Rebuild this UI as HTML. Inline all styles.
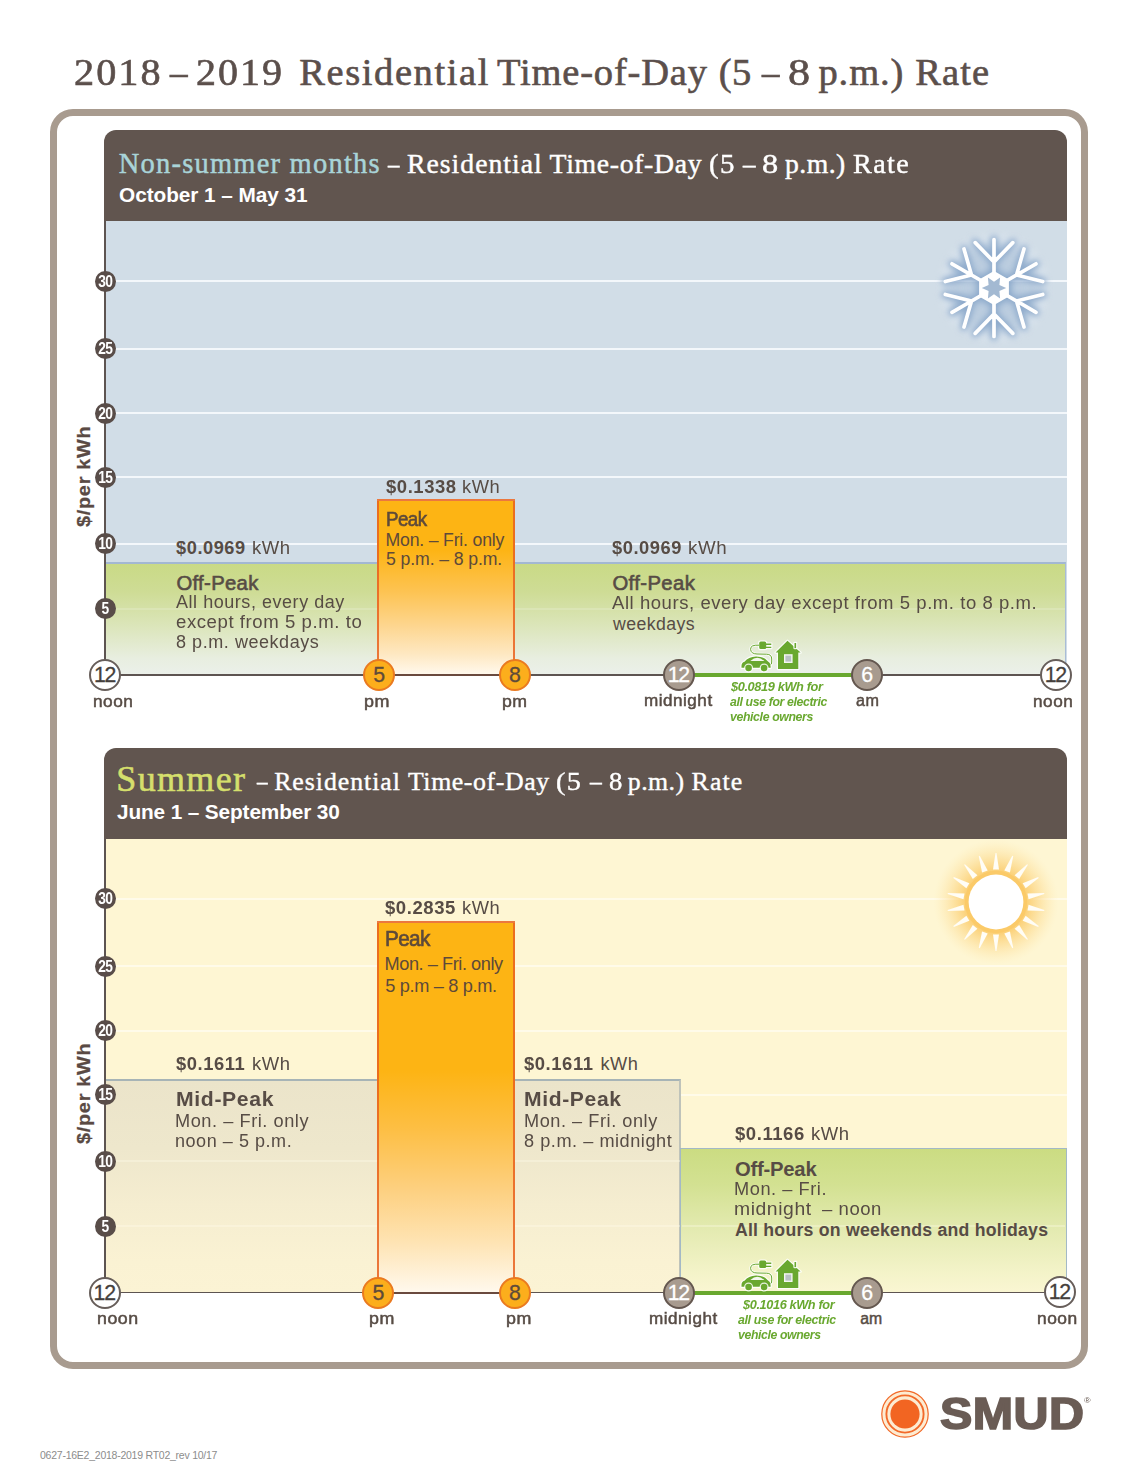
<!DOCTYPE html>
<html><head><meta charset="utf-8"><title>2018 – 2019 Residential Time-of-Day (5 – 8 p.m.) Rate</title><style>
html,body{margin:0;padding:0;background:#fff}
#pg{position:relative;width:1140px;height:1475px;overflow:hidden;background:#fff;font-family:"Liberation Sans",sans-serif}
.abs{position:absolute}
.t{position:absolute;white-space:pre;transform-origin:0 50%}
.frame{position:absolute;left:50px;top:109px;width:1024px;height:1246px;border:7px solid #a89b8f;border-radius:23px}
.hdr{position:absolute;left:104px;width:963px;height:91px;background:#61554f;border-radius:12px 12px 0 0}
.bg{position:absolute;left:105px;width:962px}
.g1{position:absolute;left:105px;width:962px;height:2px;background:#f3f7fb}
.g2{position:absolute;left:105px;width:962px;height:2px;background:#fffbe9}
.yax{position:absolute;left:104.3px;width:1.7px;background:#5d5451}
.xax{position:absolute;left:105px;height:1.8px;background:#5d5451}
.yc{position:absolute;left:94.5px;width:21px;height:21px;border-radius:50%;background:#594d49;color:#fff;font:bold 16px/21px "Liberation Sans",sans-serif;text-align:center}
.yc i{display:inline-block;font-style:normal;transform:scaleX(.86);letter-spacing:-.6px;margin:0 -4px}
.tc{position:absolute;width:28px;height:28px;border-radius:50%;border:2px solid #675e5a;background:#fff;color:#453f3c;font:21.3px/28px "Liberation Sans",sans-serif;text-align:center;letter-spacing:-1.3px;text-indent:-1.3px;-webkit-text-stroke:.3px currentColor}
.tc.or{background:#fcae1c;border-color:#ea7a20;color:#5e4a3a}
.tc.tp{background:#a89b8f;border-color:#64574f;color:#fff}
.rot{position:absolute;transform-origin:0 0;transform:rotate(-90deg) scaleX(1.07);white-space:pre;font:bold 18.6px/18.6px "Liberation Sans",sans-serif;color:#5a4a44;-webkit-text-stroke:.25px #5a4a44}
</style></head><body><div id="pg"><div class="frame"></div><div class="hdr" style="top:130px"></div><div class="bg" style="top:221px;height:454px;background:#d1dde7"></div><div class="g1" style="top:280.0px"></div><div class="g1" style="top:347.5px"></div><div class="g1" style="top:412.0px"></div><div class="g1" style="top:476.0px"></div><div class="g1" style="top:542.5px"></div><div class="abs" style="left:105px;top:562.3px;width:960.5px;height:112.7px;background:linear-gradient(#c9da86 0%,#cedc95 25%,#dbe5b9 55%,#e8eee0 85%,#ebf0ea 100%);border-top:2px solid #a3b8d2;border-right:1.8px solid #a9bcd6;box-sizing:border-box"></div><div class="abs" style="left:105px;top:607.5px;width:960px;height:2px;background:rgba(255,255,255,.16)"></div><div class="abs" style="left:377px;top:499px;width:138px;height:176px;box-sizing:border-box;border:2px solid rgba(232,98,32,.85);border-bottom:none;background:linear-gradient(#fdb414 0%,#fdb414 28%,#fdc352 52%,#fdd690 72%,#fee8c2 88%,#fff9ee 100%)"></div><div class="yax" style="top:221px;height:454px"></div><div class="xax" style="top:674px;width:951px"></div><div class="abs" style="left:379px;top:674px;width:136px;height:2px;background:#6a4a3e"></div><div class="abs" style="left:679px;top:673.3px;width:188px;height:3.5px;background:#69a82f"></div><div class="yc" style="top:270.5px"><i>30</i></div><div class="yc" style="top:338.0px"><i>25</i></div><div class="yc" style="top:402.5px"><i>20</i></div><div class="yc" style="top:466.5px"><i>15</i></div><div class="yc" style="top:533.0px"><i>10</i></div><div class="yc" style="top:598.0px"><i>5</i></div><div class="tc " style="left:89.2px;top:659.0px">12</div><div class="tc or" style="left:363.2px;top:659.0px">5</div><div class="tc or" style="left:499.0px;top:659.0px">8</div><div class="tc tp" style="left:663.0px;top:659.0px">12</div><div class="tc tp" style="left:851.2px;top:659.0px">6</div><div class="tc " style="left:1040.0px;top:658.5px">12</div><div class="rot" style="left:75.1px;top:527px;letter-spacing:.66px">$/per kWh</div><svg class="abs" style="left:924px;top:217.7px" width="140" height="140" viewBox="-70 -70 140 140">
<defs><filter id="sfb" x="-30%" y="-30%" width="160%" height="160%"><feGaussianBlur stdDeviation="3.2"/></filter>
<filter id="sfb2" x="-30%" y="-30%" width="160%" height="160%"><feGaussianBlur stdDeviation="6"/></filter>
<radialGradient id="sfg"><stop offset="0" stop-color="#9ab5d3" stop-opacity=".55"/><stop offset=".7" stop-color="#a3bcd8" stop-opacity=".4"/><stop offset=".9" stop-color="#e8eff6" stop-opacity=".45"/><stop offset="1" stop-color="#e8eff6" stop-opacity="0"/></radialGradient></defs>
<circle r="56" fill="url(#sfg)" filter="url(#sfb)"/>
<g filter="url(#sfb)" opacity=".75"><path d="M0.0 0.0L0.0 -48.5M0.0 -26.0L-18.8 -45.4M0.0 -26.0L18.8 -45.4M0.0 0.0L-42.0 -24.2M-22.5 -13.0L-48.7 -6.5M-22.5 -13.0L-30.0 -39.0M0.0 0.0L-42.0 24.3M-22.5 13.0L-30.0 39.0M-22.5 13.0L-48.7 6.5M0.0 0.0L-0.0 48.5M-0.0 26.0L18.8 45.4M-0.0 26.0L-18.8 45.4M0.0 0.0L42.0 24.3M22.5 13.0L48.7 6.5M22.5 13.0L30.0 39.0M0.0 0.0L42.0 -24.2M22.5 -13.0L30.0 -39.0M22.5 -13.0L48.7 -6.5" stroke="#7d9dc4" stroke-width="8" stroke-linecap="round" fill="none"/><polygon points="0.0,-16.0 -13.9,-8.0 -13.9,8.0 -0.0,16.0 13.9,8.0 13.9,-8.0" fill="#7d9dc4" stroke="#7d9dc4" stroke-width="7"/></g>
<path d="M0.0 0.0L0.0 -48.5M0.0 -26.0L-18.8 -45.4M0.0 -26.0L18.8 -45.4M0.0 0.0L-42.0 -24.2M-22.5 -13.0L-48.7 -6.5M-22.5 -13.0L-30.0 -39.0M0.0 0.0L-42.0 24.3M-22.5 13.0L-30.0 39.0M-22.5 13.0L-48.7 6.5M0.0 0.0L-0.0 48.5M-0.0 26.0L18.8 45.4M-0.0 26.0L-18.8 45.4M0.0 0.0L42.0 24.3M22.5 13.0L48.7 6.5M22.5 13.0L30.0 39.0M0.0 0.0L42.0 -24.2M22.5 -13.0L30.0 -39.0M22.5 -13.0L48.7 -6.5" stroke="#fff" stroke-width="3.7" stroke-linecap="round" fill="none"/>
<polygon points="0.0,-16.0 -13.9,-8.0 -13.9,8.0 -0.0,16.0 13.9,8.0 13.9,-8.0" fill="#fff" stroke="#fff" stroke-width="2" stroke-linejoin="round"/>
<polygon points="12.2,-0.0 5.4,-3.1 6.1,-10.6 0.0,-6.2 -6.1,-10.6 -5.4,-3.1 -12.2,-0.0 -5.4,3.1 -6.1,10.6 -0.0,6.2 6.1,10.6 5.4,3.1" fill="#a3b9d2"/>
</svg><svg class="abs" style="left:737px;top:635px" width="72" height="42" viewBox="-4 -4 72 42">
<g fill="#69a82f" stroke="#fff" stroke-opacity=".85" stroke-width="2.4" stroke-linejoin="round" paint-order="stroke">
<path d="M0.5 27.5 Q0.3 23.5 3.5 22.8 Q7.5 17.6 15 17.4 Q23 17.3 26.5 22 Q29.5 23.5 29.6 26.5 L29.6 28.8 L0.5 28.8Z"/>
<circle cx="7.6" cy="29" r="3.3"/><circle cx="23.1" cy="29" r="3.3"/>
<path d="M18.2 4.2 Q18.2 2.6 19.8 2.6 L23.6 2.6 Q25.2 2.6 25.2 4.2 L25.2 4.6 L30.3 4.6 L30.3 5.9 L25.2 5.9 L25.2 7.7 L30.3 7.7 L30.3 9 L25.2 9 Q25.2 10 23.6 10 L19.8 10 Q18.2 10 18.2 8.4Z"/>
<path d="M46.5 1.8 L59.6 13.6 L57.3 13.6 L57.3 30 L37 30 L37 13.6 L34.6 13.6Z"/>
<rect x="53.5" y="4" width="1.6" height="5"/>
</g>
<path d="M18 6.2 Q9.3 5.6 9.6 10.3 Q9.9 14.9 16 15 L25.5 15.2 Q30.7 15.2 30.7 20 L30.7 23 Q30.7 25.5 29.3 26" fill="none" stroke="#fff" stroke-opacity=".85" stroke-width="2.6"/>
<path d="M18 6.2 Q9.3 5.6 9.6 10.3 Q9.9 14.9 16 15 L25.5 15.2 Q30.7 15.2 30.7 20 L30.7 23 Q30.7 25.5 29.3 26" fill="none" stroke="#69a82f" stroke-width="1"/>
<path d="M9.3 22 Q16.3 15.4 23.4 22Z" fill="#f3f7ee"/>
<rect x="43" y="15.2" width="8.6" height="8.8" fill="#f4f7f1"/><rect x="44.4" y="16.6" width="5.8" height="6" fill="#b9c2c4"/>
</svg><div class="hdr" style="top:747.5px"></div><div class="bg" style="top:838.7px;height:454.0px;background:#fef6d3"></div><div class="g2" style="top:897.7px"></div><div class="g2" style="top:965.2px"></div><div class="g2" style="top:1029.7px"></div><div class="g2" style="top:1093.7px"></div><div class="g2" style="top:1160.2px"></div><div class="g2" style="top:1225.2px"></div><div class="abs" style="left:105px;width:274px;top:1078.6px;height:214.1px;box-sizing:border-box;border-top:2px solid #a7b4b6;background:linear-gradient(#ebe4ca 0%,#eee7cc 32%,#f5edd0 58%,#faf2d3 85%,#fbf3d4 100%)"></div><div class="abs" style="left:514px;width:167px;top:1078.6px;height:214.1px;box-sizing:border-box;border-top:2px solid #a7b4b6;background:linear-gradient(#ebe4ca 0%,#eee7cc 32%,#f5edd0 58%,#faf2d3 85%,#fbf3d4 100%);border-right:2px solid #bfc3ba"></div><div class="abs" style="left:105px;top:1160.2px;width:576px;height:2px;background:rgba(255,252,235,.35)"></div><div class="abs" style="left:105px;top:1225.2px;width:576px;height:2px;background:rgba(255,252,235,.35)"></div><div class="abs" style="left:680px;top:1148px;width:387px;height:144.7px;box-sizing:border-box;border:1.6px solid #a3b9c6;border-bottom:none;background:linear-gradient(#cbdc82 0%,#d3e192 25%,#e3eab0 55%,#f3f3c8 85%,#faf6d3 100%)"></div><div class="abs" style="left:682px;top:1225.2px;width:383px;height:2px;background:rgba(255,255,240,.3)"></div><div class="abs" style="left:377px;top:921px;width:138.3px;height:371.7px;box-sizing:border-box;border:2px solid rgba(232,98,32,.85);border-bottom:none;background:linear-gradient(#fdb414 0%,#fdb414 40%,#fdbf45 56%,#fdd080 72%,#fee3b2 86%,#fff9ee 100%)"></div><div class="yax" style="top:838.7px;height:454.0px"></div><div class="xax" style="top:1291.7px;width:955px"></div><div class="abs" style="left:379px;top:1291.7px;width:136px;height:2px;background:#6a4a3e"></div><div class="abs" style="left:679px;top:1291.0px;width:188px;height:3.5px;background:#69a82f"></div><div class="yc" style="top:888.2px"><i>30</i></div><div class="yc" style="top:955.7px"><i>25</i></div><div class="yc" style="top:1020.2px"><i>20</i></div><div class="yc" style="top:1084.2px"><i>15</i></div><div class="yc" style="top:1150.7px"><i>10</i></div><div class="yc" style="top:1215.7px"><i>5</i></div><div class="tc " style="left:88.8px;top:1276.7px">12</div><div class="tc or" style="left:362.3px;top:1276.7px">5</div><div class="tc or" style="left:498.8px;top:1276.7px">8</div><div class="tc tp" style="left:663.0px;top:1276.7px">12</div><div class="tc tp" style="left:851.2px;top:1276.7px">6</div><div class="tc " style="left:1044.0px;top:1276.3px">12</div><div class="rot" style="left:75.1px;top:1144.2px;letter-spacing:.66px">$/per kWh</div><svg class="abs" style="left:921px;top:826.6px" width="150" height="150" viewBox="-75 -75 150 150">
<defs><radialGradient id="sung"><stop offset="0" stop-color="#fbc965"/><stop offset=".48" stop-color="#fbcb6a" stop-opacity=".85"/><stop offset=".66" stop-color="#fcd27a" stop-opacity=".5"/><stop offset=".82" stop-color="#fddc92" stop-opacity=".22"/><stop offset=".95" stop-color="#fde9ae" stop-opacity="0"/></radialGradient>
<filter id="sunb"><feGaussianBlur stdDeviation=".55"/></filter></defs>
<circle r="66" fill="url(#sung)"/>
<g filter="url(#sunb)"><polygon points="-3,-32.5 3,-32.5 0.5,-49 -0.5,-49" fill="#fffdf6" transform="rotate(0)"/><polygon points="-3,-32.5 3,-32.5 0.5,-49 -0.5,-49" fill="#fffdf6" transform="rotate(-20)"/><polygon points="-3,-32.5 3,-32.5 0.5,-49 -0.5,-49" fill="#fffdf6" transform="rotate(-40)"/><polygon points="-3,-32.5 3,-32.5 0.5,-49 -0.5,-49" fill="#fffdf6" transform="rotate(-60)"/><polygon points="-3,-32.5 3,-32.5 0.5,-49 -0.5,-49" fill="#fffdf6" transform="rotate(-80)"/><polygon points="-3,-32.5 3,-32.5 0.5,-49 -0.5,-49" fill="#fffdf6" transform="rotate(-100)"/><polygon points="-3,-32.5 3,-32.5 0.5,-49 -0.5,-49" fill="#fffdf6" transform="rotate(-120)"/><polygon points="-3,-32.5 3,-32.5 0.5,-49 -0.5,-49" fill="#fffdf6" transform="rotate(-140)"/><polygon points="-3,-32.5 3,-32.5 0.5,-49 -0.5,-49" fill="#fffdf6" transform="rotate(-160)"/><polygon points="-3,-32.5 3,-32.5 0.5,-49 -0.5,-49" fill="#fffdf6" transform="rotate(-180)"/><polygon points="-3,-32.5 3,-32.5 0.5,-49 -0.5,-49" fill="#fffdf6" transform="rotate(-200)"/><polygon points="-3,-32.5 3,-32.5 0.5,-49 -0.5,-49" fill="#fffdf6" transform="rotate(-220)"/><polygon points="-3,-32.5 3,-32.5 0.5,-49 -0.5,-49" fill="#fffdf6" transform="rotate(-240)"/><polygon points="-3,-32.5 3,-32.5 0.5,-49 -0.5,-49" fill="#fffdf6" transform="rotate(-260)"/><polygon points="-3,-32.5 3,-32.5 0.5,-49 -0.5,-49" fill="#fffdf6" transform="rotate(-280)"/><polygon points="-3,-32.5 3,-32.5 0.5,-49 -0.5,-49" fill="#fffdf6" transform="rotate(-300)"/><polygon points="-3,-32.5 3,-32.5 0.5,-49 -0.5,-49" fill="#fffdf6" transform="rotate(-320)"/><polygon points="-3,-32.5 3,-32.5 0.5,-49 -0.5,-49" fill="#fffdf6" transform="rotate(-340)"/></g>
<circle r="31.2" fill="#fbca68"/>
<circle r="27.4" fill="#fff"/>
</svg><svg class="abs" style="left:737px;top:1253.9px" width="72" height="42" viewBox="-4 -4 72 42">
<g fill="#69a82f" stroke="#fff" stroke-opacity=".85" stroke-width="2.4" stroke-linejoin="round" paint-order="stroke">
<path d="M0.5 27.5 Q0.3 23.5 3.5 22.8 Q7.5 17.6 15 17.4 Q23 17.3 26.5 22 Q29.5 23.5 29.6 26.5 L29.6 28.8 L0.5 28.8Z"/>
<circle cx="7.6" cy="29" r="3.3"/><circle cx="23.1" cy="29" r="3.3"/>
<path d="M18.2 4.2 Q18.2 2.6 19.8 2.6 L23.6 2.6 Q25.2 2.6 25.2 4.2 L25.2 4.6 L30.3 4.6 L30.3 5.9 L25.2 5.9 L25.2 7.7 L30.3 7.7 L30.3 9 L25.2 9 Q25.2 10 23.6 10 L19.8 10 Q18.2 10 18.2 8.4Z"/>
<path d="M46.5 1.8 L59.6 13.6 L57.3 13.6 L57.3 30 L37 30 L37 13.6 L34.6 13.6Z"/>
<rect x="53.5" y="4" width="1.6" height="5"/>
</g>
<path d="M18 6.2 Q9.3 5.6 9.6 10.3 Q9.9 14.9 16 15 L25.5 15.2 Q30.7 15.2 30.7 20 L30.7 23 Q30.7 25.5 29.3 26" fill="none" stroke="#fff" stroke-opacity=".85" stroke-width="2.6"/>
<path d="M18 6.2 Q9.3 5.6 9.6 10.3 Q9.9 14.9 16 15 L25.5 15.2 Q30.7 15.2 30.7 20 L30.7 23 Q30.7 25.5 29.3 26" fill="none" stroke="#69a82f" stroke-width="1"/>
<path d="M9.3 22 Q16.3 15.4 23.4 22Z" fill="#f3f7ee"/>
<rect x="43" y="15.2" width="8.6" height="8.8" fill="#f4f7f1"/><rect x="44.4" y="16.6" width="5.8" height="6" fill="#b9c2c4"/>
</svg><svg class="abs" style="left:878.7px;top:1387.9px" width="52" height="52" viewBox="-26 -26 52 52">
<circle r="23.6" fill="#fdecd2"/><circle r="23.2" fill="none" stroke="#f26a2a" stroke-width="1.2"/>
<circle r="18.6" fill="none" stroke="#f26a2a" stroke-width="1.9"/>
<circle r="14.6" fill="#f26522"/></svg><span class="t" style="left:74.25px;top:53.26px;font:normal normal 38.5px/38.5px 'Liberation Serif', serif;color:#5b4f4b;-webkit-text-stroke:0.62px #5b4f4b;letter-spacing:1.925px;transform:scaleX(1.0456);">2018</span><span class="t" style="left:170.11px;top:53.26px;font:normal normal 38.5px/38.5px 'Liberation Serif', serif;color:#5b4f4b;-webkit-text-stroke:0.62px #5b4f4b;transform:scaleX(0.9143);">–</span><span class="t" style="left:195.76px;top:53.26px;font:normal normal 38.5px/38.5px 'Liberation Serif', serif;color:#5b4f4b;-webkit-text-stroke:0.62px #5b4f4b;letter-spacing:1.925px;transform:scaleX(1.0394);">2019</span><span class="t" style="left:299.20px;top:53.26px;font:normal normal 38.5px/38.5px 'Liberation Serif', serif;color:#5b4f4b;-webkit-text-stroke:0.62px #5b4f4b;letter-spacing:1.608px;">Residential</span><span class="t" style="left:497.10px;top:53.26px;font:normal normal 38.5px/38.5px 'Liberation Serif', serif;color:#5b4f4b;-webkit-text-stroke:0.62px #5b4f4b;letter-spacing:0.810px;">Time-of-Day</span><span class="t" style="left:718.70px;top:53.26px;font:normal normal 38.5px/38.5px 'Liberation Serif', serif;color:#5b4f4b;-webkit-text-stroke:0.62px #5b4f4b;letter-spacing:0.479px;">(5</span><span class="t" style="left:761.90px;top:53.26px;font:normal normal 38.5px/38.5px 'Liberation Serif', serif;color:#5b4f4b;-webkit-text-stroke:0.62px #5b4f4b;transform:scaleX(0.9048);">–</span><span class="t" style="left:788.35px;top:53.26px;font:normal normal 38.5px/38.5px 'Liberation Serif', serif;color:#5b4f4b;-webkit-text-stroke:0.62px #5b4f4b;transform:scaleX(1.1471);">8</span><span class="t" style="left:818.40px;top:53.26px;font:normal normal 38.5px/38.5px 'Liberation Serif', serif;color:#5b4f4b;-webkit-text-stroke:0.62px #5b4f4b;letter-spacing:0.938px;">p.m.)</span><span class="t" style="left:915.30px;top:53.26px;font:normal normal 38.5px/38.5px 'Liberation Serif', serif;color:#5b4f4b;-webkit-text-stroke:0.62px #5b4f4b;letter-spacing:1.079px;">Rate</span><span class="t" style="left:118.80px;top:149.63px;font:normal normal 28.5px/28.5px 'Liberation Serif', serif;color:#a9d4d8;-webkit-text-stroke:0.46px #a9d4d8;letter-spacing:1.209px;">Non-summer months</span><span class="t" style="left:388.22px;top:150.30px;font:normal normal 27.7px/27.7px 'Liberation Serif', serif;color:#fff;-webkit-text-stroke:0.44px #fff;transform:scaleX(0.8250);">–</span><span class="t" style="left:407.00px;top:150.30px;font:normal normal 27.7px/27.7px 'Liberation Serif', serif;color:#fff;-webkit-text-stroke:0.44px #fff;letter-spacing:1.013px;">Residential</span><span class="t" style="left:549.50px;top:150.30px;font:normal normal 27.7px/27.7px 'Liberation Serif', serif;color:#fff;-webkit-text-stroke:0.44px #fff;letter-spacing:0.696px;">Time-of-Day</span><span class="t" style="left:708.96px;top:150.30px;font:normal normal 27.7px/27.7px 'Liberation Serif', serif;color:#fff;-webkit-text-stroke:0.44px #fff;letter-spacing:1.385px;transform:scaleX(1.0440);">(5</span><span class="t" style="left:743.41px;top:150.30px;font:normal normal 27.7px/27.7px 'Liberation Serif', serif;color:#fff;-webkit-text-stroke:0.44px #fff;transform:scaleX(0.9062);">–</span><span class="t" style="left:761.83px;top:150.30px;font:normal normal 27.7px/27.7px 'Liberation Serif', serif;color:#fff;-webkit-text-stroke:0.44px #fff;transform:scaleX(1.1667);">8</span><span class="t" style="left:785.00px;top:150.30px;font:normal normal 27.7px/27.7px 'Liberation Serif', serif;color:#fff;-webkit-text-stroke:0.44px #fff;letter-spacing:0.444px;">p.m.)</span><span class="t" style="left:852.50px;top:150.30px;font:normal normal 27.7px/27.7px 'Liberation Serif', serif;color:#fff;-webkit-text-stroke:0.44px #fff;letter-spacing:1.385px;transform:scaleX(1.0164);">Rate</span><span class="t" style="left:119.10px;top:185.19px;font:normal bold 20.8px/20.8px 'Liberation Sans', sans-serif;color:#fff;letter-spacing:-0.065px;">October 1 – May 31</span><span class="t" style="left:116.30px;top:760.65px;font:normal normal 36px/36px 'Liberation Serif', serif;color:#d5df6c;-webkit-text-stroke:0.58px #d5df6c;letter-spacing:1.339px;">Summer</span><span class="t" style="left:256.82px;top:769.19px;font:normal normal 25.8px/25.8px 'Liberation Serif', serif;color:#fff;-webkit-text-stroke:0.41px #fff;transform:scaleX(0.8200);">–</span><span class="t" style="left:274.20px;top:769.19px;font:normal normal 25.8px/25.8px 'Liberation Serif', serif;color:#fff;-webkit-text-stroke:0.41px #fff;letter-spacing:0.961px;">Residential</span><span class="t" style="left:407.90px;top:769.19px;font:normal normal 25.8px/25.8px 'Liberation Serif', serif;color:#fff;-webkit-text-stroke:0.41px #fff;letter-spacing:0.612px;">Time-of-Day</span><span class="t" style="left:555.90px;top:769.19px;font:normal normal 25.8px/25.8px 'Liberation Serif', serif;color:#fff;-webkit-text-stroke:0.41px #fff;letter-spacing:1.290px;transform:scaleX(1.0967);">(5</span><span class="t" style="left:589.91px;top:769.19px;font:normal normal 25.8px/25.8px 'Liberation Serif', serif;color:#fff;-webkit-text-stroke:0.41px #fff;transform:scaleX(0.9133);">–</span><span class="t" style="left:608.60px;top:769.19px;font:normal normal 25.8px/25.8px 'Liberation Serif', serif;color:#fff;-webkit-text-stroke:0.41px #fff;transform:scaleX(1.0333);">8</span><span class="t" style="left:627.80px;top:769.19px;font:normal normal 25.8px/25.8px 'Liberation Serif', serif;color:#fff;-webkit-text-stroke:0.41px #fff;letter-spacing:0.434px;">p.m.)</span><span class="t" style="left:691.60px;top:769.19px;font:normal normal 25.8px/25.8px 'Liberation Serif', serif;color:#fff;-webkit-text-stroke:0.41px #fff;letter-spacing:1.126px;">Rate</span><span class="t" style="left:117.00px;top:802.09px;font:normal bold 20.8px/20.8px 'Liberation Sans', sans-serif;color:#fff;letter-spacing:-0.127px;">June 1 – September 30</span><span class="t" style="left:176.10px;top:539.19px;font:normal bold 18.2px/18.2px 'Liberation Sans', sans-serif;color:#574c45;letter-spacing:0.546px;">$0.0969</span><span class="t" style="left:252.28px;top:539.19px;font:normal normal 18.2px/18.2px 'Liberation Sans', sans-serif;color:#574c45;letter-spacing:0.546px;transform:scaleX(1.0183);">kWh</span><span class="t" style="left:176.40px;top:572.63px;font:normal normal 20.28px/20.28px 'Liberation Sans', sans-serif;color:#574c45;-webkit-text-stroke:0.61px #574c45;letter-spacing:0.334px;">Off-Peak</span><span class="t" style="left:176.10px;top:594.43px;font:normal normal 17.68px/17.68px 'Liberation Sans', sans-serif;color:#574c45;letter-spacing:0.530px;transform:scaleX(1.0185);">All hours, every day</span><span class="t" style="left:176.10px;top:614.33px;font:normal normal 17.68px/17.68px 'Liberation Sans', sans-serif;color:#574c45;letter-spacing:0.530px;transform:scaleX(1.0522);">except from 5 p.m. to</span><span class="t" style="left:176.10px;top:634.03px;font:normal normal 17.68px/17.68px 'Liberation Sans', sans-serif;color:#574c45;letter-spacing:0.530px;transform:scaleX(1.0200);">8 p.m. weekdays</span><span class="t" style="left:386.10px;top:478.49px;font:normal bold 18.2px/18.2px 'Liberation Sans', sans-serif;color:#574c45;letter-spacing:0.546px;transform:scaleX(1.0145);">$0.1338</span><span class="t" style="left:462.39px;top:478.49px;font:normal normal 18.2px/18.2px 'Liberation Sans', sans-serif;color:#574c45;letter-spacing:0.546px;transform:scaleX(1.0070);">kWh</span><span class="t" style="left:386.07px;top:508.63px;font:normal normal 20.28px/20.28px 'Liberation Sans', sans-serif;color:#5e4a3a;-webkit-text-stroke:0.61px #5e4a3a;letter-spacing:-0.608px;transform:scaleX(0.9269);">Peak</span><span class="t" style="left:385.50px;top:531.53px;font:normal normal 17.68px/17.68px 'Liberation Sans', sans-serif;color:#5e4a3a;letter-spacing:-0.196px;">Mon. – Fri. only</span><span class="t" style="left:386.10px;top:551.23px;font:normal normal 17.68px/17.68px 'Liberation Sans', sans-serif;color:#5e4a3a;letter-spacing:-0.125px;">5 p.m. – 8 p.m.</span><span class="t" style="left:612.10px;top:539.19px;font:normal bold 18.2px/18.2px 'Liberation Sans', sans-serif;color:#574c45;letter-spacing:0.546px;transform:scaleX(1.0072);">$0.0969</span><span class="t" style="left:688.47px;top:539.19px;font:normal normal 18.2px/18.2px 'Liberation Sans', sans-serif;color:#574c45;letter-spacing:0.546px;transform:scaleX(1.0296);">kWh</span><span class="t" style="left:612.40px;top:573.13px;font:normal normal 20.28px/20.28px 'Liberation Sans', sans-serif;color:#574c45;-webkit-text-stroke:0.61px #574c45;letter-spacing:0.405px;">Off-Peak</span><span class="t" style="left:612.10px;top:595.33px;font:normal normal 17.68px/17.68px 'Liberation Sans', sans-serif;color:#574c45;letter-spacing:0.530px;transform:scaleX(1.0471);">All hours, every day except from 5 p.m. to 8 p.m.</span><span class="t" style="left:613.10px;top:615.53px;font:normal normal 17.68px/17.68px 'Liberation Sans', sans-serif;color:#574c45;letter-spacing:0.422px;">weekdays</span><span class="t" style="left:93.11px;top:693.82px;font:normal normal 15.81px/15.81px 'Liberation Sans', sans-serif;color:#574c45;-webkit-text-stroke:0.47px #574c45;letter-spacing:0.474px;transform:scaleX(1.0926);">noon</span><span class="t" style="left:363.97px;top:693.82px;font:normal normal 15.81px/15.81px 'Liberation Sans', sans-serif;color:#574c45;-webkit-text-stroke:0.47px #574c45;letter-spacing:0.474px;transform:scaleX(1.1336);">pm</span><span class="t" style="left:501.88px;top:693.82px;font:normal normal 15.81px/15.81px 'Liberation Sans', sans-serif;color:#574c45;-webkit-text-stroke:0.47px #574c45;letter-spacing:0.474px;transform:scaleX(1.1195);">pm</span><span class="t" style="left:644.42px;top:693.42px;font:normal normal 15.81px/15.81px 'Liberation Sans', sans-serif;color:#574c45;-webkit-text-stroke:0.47px #574c45;letter-spacing:0.474px;transform:scaleX(1.0808);">midnight</span><span class="t" style="left:855.80px;top:693.42px;font:normal normal 15.81px/15.81px 'Liberation Sans', sans-serif;color:#574c45;-webkit-text-stroke:0.47px #574c45;letter-spacing:0.474px;transform:scaleX(1.0243);">am</span><span class="t" style="left:1033.21px;top:693.82px;font:normal normal 15.81px/15.81px 'Liberation Sans', sans-serif;color:#574c45;-webkit-text-stroke:0.47px #574c45;letter-spacing:0.474px;transform:scaleX(1.0869);">noon</span><span class="t" style="left:730.88px;top:679.70px;font:italic bold 13.0px/13.0px 'Liberation Sans', sans-serif;color:#69a82f;letter-spacing:-0.390px;transform:scaleX(0.9836);">$0.0819 kWh for</span><span class="t" style="left:729.90px;top:695.30px;font:italic bold 13.0px/13.0px 'Liberation Sans', sans-serif;color:#69a82f;letter-spacing:-0.390px;transform:scaleX(0.9441);">all use for electric</span><span class="t" style="left:729.90px;top:710.00px;font:italic bold 13.0px/13.0px 'Liberation Sans', sans-serif;color:#69a82f;letter-spacing:-0.390px;transform:scaleX(0.9453);">vehicle owners</span><span class="t" style="left:385.30px;top:898.99px;font:normal bold 18.2px/18.2px 'Liberation Sans', sans-serif;color:#574c45;letter-spacing:0.546px;transform:scaleX(1.0188);">$0.2835</span><span class="t" style="left:461.59px;top:898.99px;font:normal normal 18.2px/18.2px 'Liberation Sans', sans-serif;color:#574c45;letter-spacing:0.546px;transform:scaleX(1.0070);">kWh</span><span class="t" style="left:384.95px;top:928.31px;font:normal normal 21.84px/21.84px 'Liberation Sans', sans-serif;color:#5e4a3a;-webkit-text-stroke:0.66px #5e4a3a;letter-spacing:-0.655px;transform:scaleX(0.9494);">Peak</span><span class="t" style="left:384.60px;top:955.09px;font:normal normal 18.2px/18.2px 'Liberation Sans', sans-serif;color:#5e4a3a;letter-spacing:-0.456px;">Mon. – Fri. only</span><span class="t" style="left:385.30px;top:977.19px;font:normal normal 18.2px/18.2px 'Liberation Sans', sans-serif;color:#5e4a3a;letter-spacing:-0.338px;">5 p.m – 8 p.m.</span><span class="t" style="left:175.90px;top:1055.39px;font:normal bold 18.2px/18.2px 'Liberation Sans', sans-serif;color:#574c45;letter-spacing:0.546px;transform:scaleX(1.0088);">$0.1611</span><span class="t" style="left:251.79px;top:1055.39px;font:normal normal 18.2px/18.2px 'Liberation Sans', sans-serif;color:#574c45;letter-spacing:0.546px;transform:scaleX(1.0127);">kWh</span><span class="t" style="left:175.98px;top:1088.69px;font:normal bold 20.8px/20.8px 'Liberation Sans', sans-serif;color:#574c45;letter-spacing:0.624px;transform:scaleX(1.0189);">Mid-Peak</span><span class="t" style="left:175.27px;top:1112.93px;font:normal normal 17.68px/17.68px 'Liberation Sans', sans-serif;color:#574c45;letter-spacing:0.530px;transform:scaleX(1.0295);">Mon. – Fri. only</span><span class="t" style="left:174.98px;top:1132.63px;font:normal normal 17.68px/17.68px 'Liberation Sans', sans-serif;color:#574c45;letter-spacing:0.530px;transform:scaleX(1.0193);">noon – 5 p.m.</span><span class="t" style="left:524.20px;top:1055.39px;font:normal bold 18.2px/18.2px 'Liberation Sans', sans-serif;color:#574c45;letter-spacing:0.546px;transform:scaleX(1.0133);">$0.1611</span><span class="t" style="left:600.40px;top:1055.39px;font:normal normal 18.2px/18.2px 'Liberation Sans', sans-serif;color:#574c45;letter-spacing:0.546px;">kWh</span><span class="t" style="left:523.59px;top:1088.69px;font:normal bold 20.8px/20.8px 'Liberation Sans', sans-serif;color:#574c45;letter-spacing:0.624px;transform:scaleX(1.0136);">Mid-Peak</span><span class="t" style="left:523.57px;top:1112.93px;font:normal normal 17.68px/17.68px 'Liberation Sans', sans-serif;color:#574c45;letter-spacing:0.530px;transform:scaleX(1.0272);">Mon. – Fri. only</span><span class="t" style="left:524.20px;top:1132.83px;font:normal normal 17.68px/17.68px 'Liberation Sans', sans-serif;color:#574c45;letter-spacing:0.530px;transform:scaleX(1.0255);">8 p.m. – midnight</span><span class="t" style="left:734.90px;top:1125.39px;font:normal bold 18.2px/18.2px 'Liberation Sans', sans-serif;color:#574c45;letter-spacing:0.546px;transform:scaleX(1.0177);">$0.1166</span><span class="t" style="left:810.98px;top:1125.39px;font:normal normal 18.2px/18.2px 'Liberation Sans', sans-serif;color:#574c45;letter-spacing:0.546px;transform:scaleX(1.0155);">kWh</span><span class="t" style="left:734.90px;top:1158.73px;font:normal bold 20.28px/20.28px 'Liberation Sans', sans-serif;color:#574c45;letter-spacing:-0.224px;">Off-Peak</span><span class="t" style="left:733.87px;top:1181.33px;font:normal normal 17.68px/17.68px 'Liberation Sans', sans-serif;color:#574c45;letter-spacing:0.530px;transform:scaleX(1.0302);">Mon. – Fri.</span><span class="t" style="left:733.81px;top:1201.33px;font:normal normal 17.68px/17.68px 'Liberation Sans', sans-serif;color:#574c45;letter-spacing:0.530px;transform:scaleX(1.0934);">midnight</span><span class="t" style="left:822.00px;top:1201.33px;font:normal normal 17.68px/17.68px 'Liberation Sans', sans-serif;color:#574c45;letter-spacing:0.530px;transform:scaleX(1.0470);">– noon</span><span class="t" style="left:734.90px;top:1221.63px;font:normal bold 17.68px/17.68px 'Liberation Sans', sans-serif;color:#574c45;letter-spacing:0.234px;">All hours on weekends and holidays</span><span class="t" style="left:96.58px;top:1311.12px;font:normal normal 15.81px/15.81px 'Liberation Sans', sans-serif;color:#574c45;-webkit-text-stroke:0.47px #574c45;letter-spacing:0.474px;transform:scaleX(1.1242);">noon</span><span class="t" style="left:368.57px;top:1311.12px;font:normal normal 15.81px/15.81px 'Liberation Sans', sans-serif;color:#574c45;-webkit-text-stroke:0.47px #574c45;letter-spacing:0.474px;transform:scaleX(1.1289);">pm</span><span class="t" style="left:506.27px;top:1311.12px;font:normal normal 15.81px/15.81px 'Liberation Sans', sans-serif;color:#574c45;-webkit-text-stroke:0.47px #574c45;letter-spacing:0.474px;transform:scaleX(1.1289);">pm</span><span class="t" style="left:648.92px;top:1311.12px;font:normal normal 15.81px/15.81px 'Liberation Sans', sans-serif;color:#574c45;-webkit-text-stroke:0.47px #574c45;letter-spacing:0.474px;transform:scaleX(1.0824);">midnight</span><span class="t" style="left:860.30px;top:1311.12px;font:normal normal 15.81px/15.81px 'Liberation Sans', sans-serif;color:#574c45;-webkit-text-stroke:0.47px #574c45;letter-spacing:-0.085px;">am</span><span class="t" style="left:1037.30px;top:1311.12px;font:normal normal 15.81px/15.81px 'Liberation Sans', sans-serif;color:#574c45;-webkit-text-stroke:0.47px #574c45;letter-spacing:0.474px;transform:scaleX(1.0984);">noon</span><span class="t" style="left:742.68px;top:1297.70px;font:italic bold 13.0px/13.0px 'Liberation Sans', sans-serif;color:#69a82f;letter-spacing:-0.390px;transform:scaleX(0.9794);">$0.1016 kWh for</span><span class="t" style="left:737.60px;top:1313.20px;font:italic bold 13.0px/13.0px 'Liberation Sans', sans-serif;color:#69a82f;letter-spacing:-0.390px;transform:scaleX(0.9508);">all use for electric</span><span class="t" style="left:737.60px;top:1327.60px;font:italic bold 13.0px/13.0px 'Liberation Sans', sans-serif;color:#69a82f;letter-spacing:-0.390px;transform:scaleX(0.9419);">vehicle owners</span><span class="t" style="left:40.00px;top:1449.91px;font:normal normal 10.5px/10.5px 'Liberation Sans', sans-serif;color:#8c8c8c;letter-spacing:-0.243px;">0627-16E2_2018-2019 RT02_rev 10/17</span><span class="t" style="left:940.29px;top:1392.78px;font:normal bold 43.5px/43.5px 'Liberation Sans', sans-serif;color:#6a5c55;-webkit-text-stroke:1.6px #6a5c55;letter-spacing:0.400px;transform:scaleX(1.1130);">SMUD</span><span class="t" style="left:1083.80px;top:1397.23px;font:normal normal 8px/8px 'Liberation Sans', sans-serif;color:#6a5c55;transform:scaleX(1.1167);">®</span></div></body></html>
